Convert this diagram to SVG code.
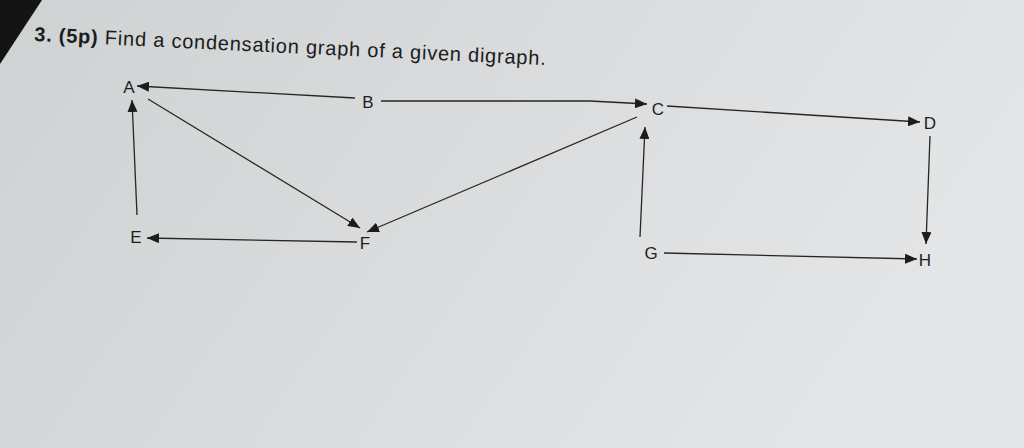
<svg xmlns="http://www.w3.org/2000/svg" width="1024" height="448" viewBox="0 0 1024 448">
  <defs>
    <linearGradient id="paper" x1="0" y1="0" x2="1" y2="0.3">
      <stop offset="0" stop-color="#cfd2d3"/>
      <stop offset="0.55" stop-color="#dadcdd"/>
      <stop offset="1" stop-color="#e3e5e6"/>
    </linearGradient>
    <marker id="arr" viewBox="0 0 12 10" refX="12" refY="5" markerWidth="12" markerHeight="10" markerUnits="userSpaceOnUse" orient="auto">
      <path d="M0,0 L12,5 L0,10 z" fill="#1c1c1c"/>
    </marker>
    <style>
      .lbl { font-family: "Liberation Sans", Arial, sans-serif; font-size: 17px; fill: #1e1e1e; text-anchor: middle; }
      .edge { fill: none; stroke: #262626; stroke-width: 1.3; marker-end: url(#arr); }
      .title { font-family: "Liberation Sans", Arial, sans-serif; font-size: 20px; fill: #1c1c1c; }
    </style>
  </defs>
  <rect x="0" y="0" width="1024" height="448" fill="url(#paper)"/>
  <polygon points="0,0 42,0 0,64" fill="#141414"/>

  <text class="title" x="34" y="41" transform="rotate(2.7 34 41)" textLength="512" lengthAdjust="spacing"><tspan font-weight="bold">3. (5p)</tspan> Find a condensation graph of a given digraph.</text>

  <g id="connectors">
    <path class="edge" d="M355,98 L137,86"/>
    <path class="edge" d="M381,101 L590,101 L647,104"/>
    <path class="edge" d="M137,215 L132,100"/>
    <path class="edge" d="M148,99 L360,228"/>
    <path class="edge" d="M637,117 L367,232"/>
    <path class="edge" d="M357,242 L147,238"/>
    <path class="edge" d="M667,106 L920,122"/>
    <path class="edge" d="M930,136 L926,244"/>
    <path class="edge" d="M640,237 L645,127"/>
    <path class="edge" d="M664,253 L917,259"/>
  </g>

  <g id="node-A"><text class="lbl" x="129" y="93">A</text></g>
  <g id="node-B"><text class="lbl" x="368" y="108">B</text></g>
  <g id="node-C"><text class="lbl" x="658" y="115">C</text></g>
  <g id="node-D"><text class="lbl" x="930" y="129">D</text></g>
  <g id="node-E"><text class="lbl" x="136" y="243">E</text></g>
  <g id="node-F"><text class="lbl" x="365" y="249">F</text></g>
  <g id="node-G"><text class="lbl" x="651" y="259">G</text></g>
  <g id="node-H"><text class="lbl" x="925" y="266">H</text></g>
</svg>
